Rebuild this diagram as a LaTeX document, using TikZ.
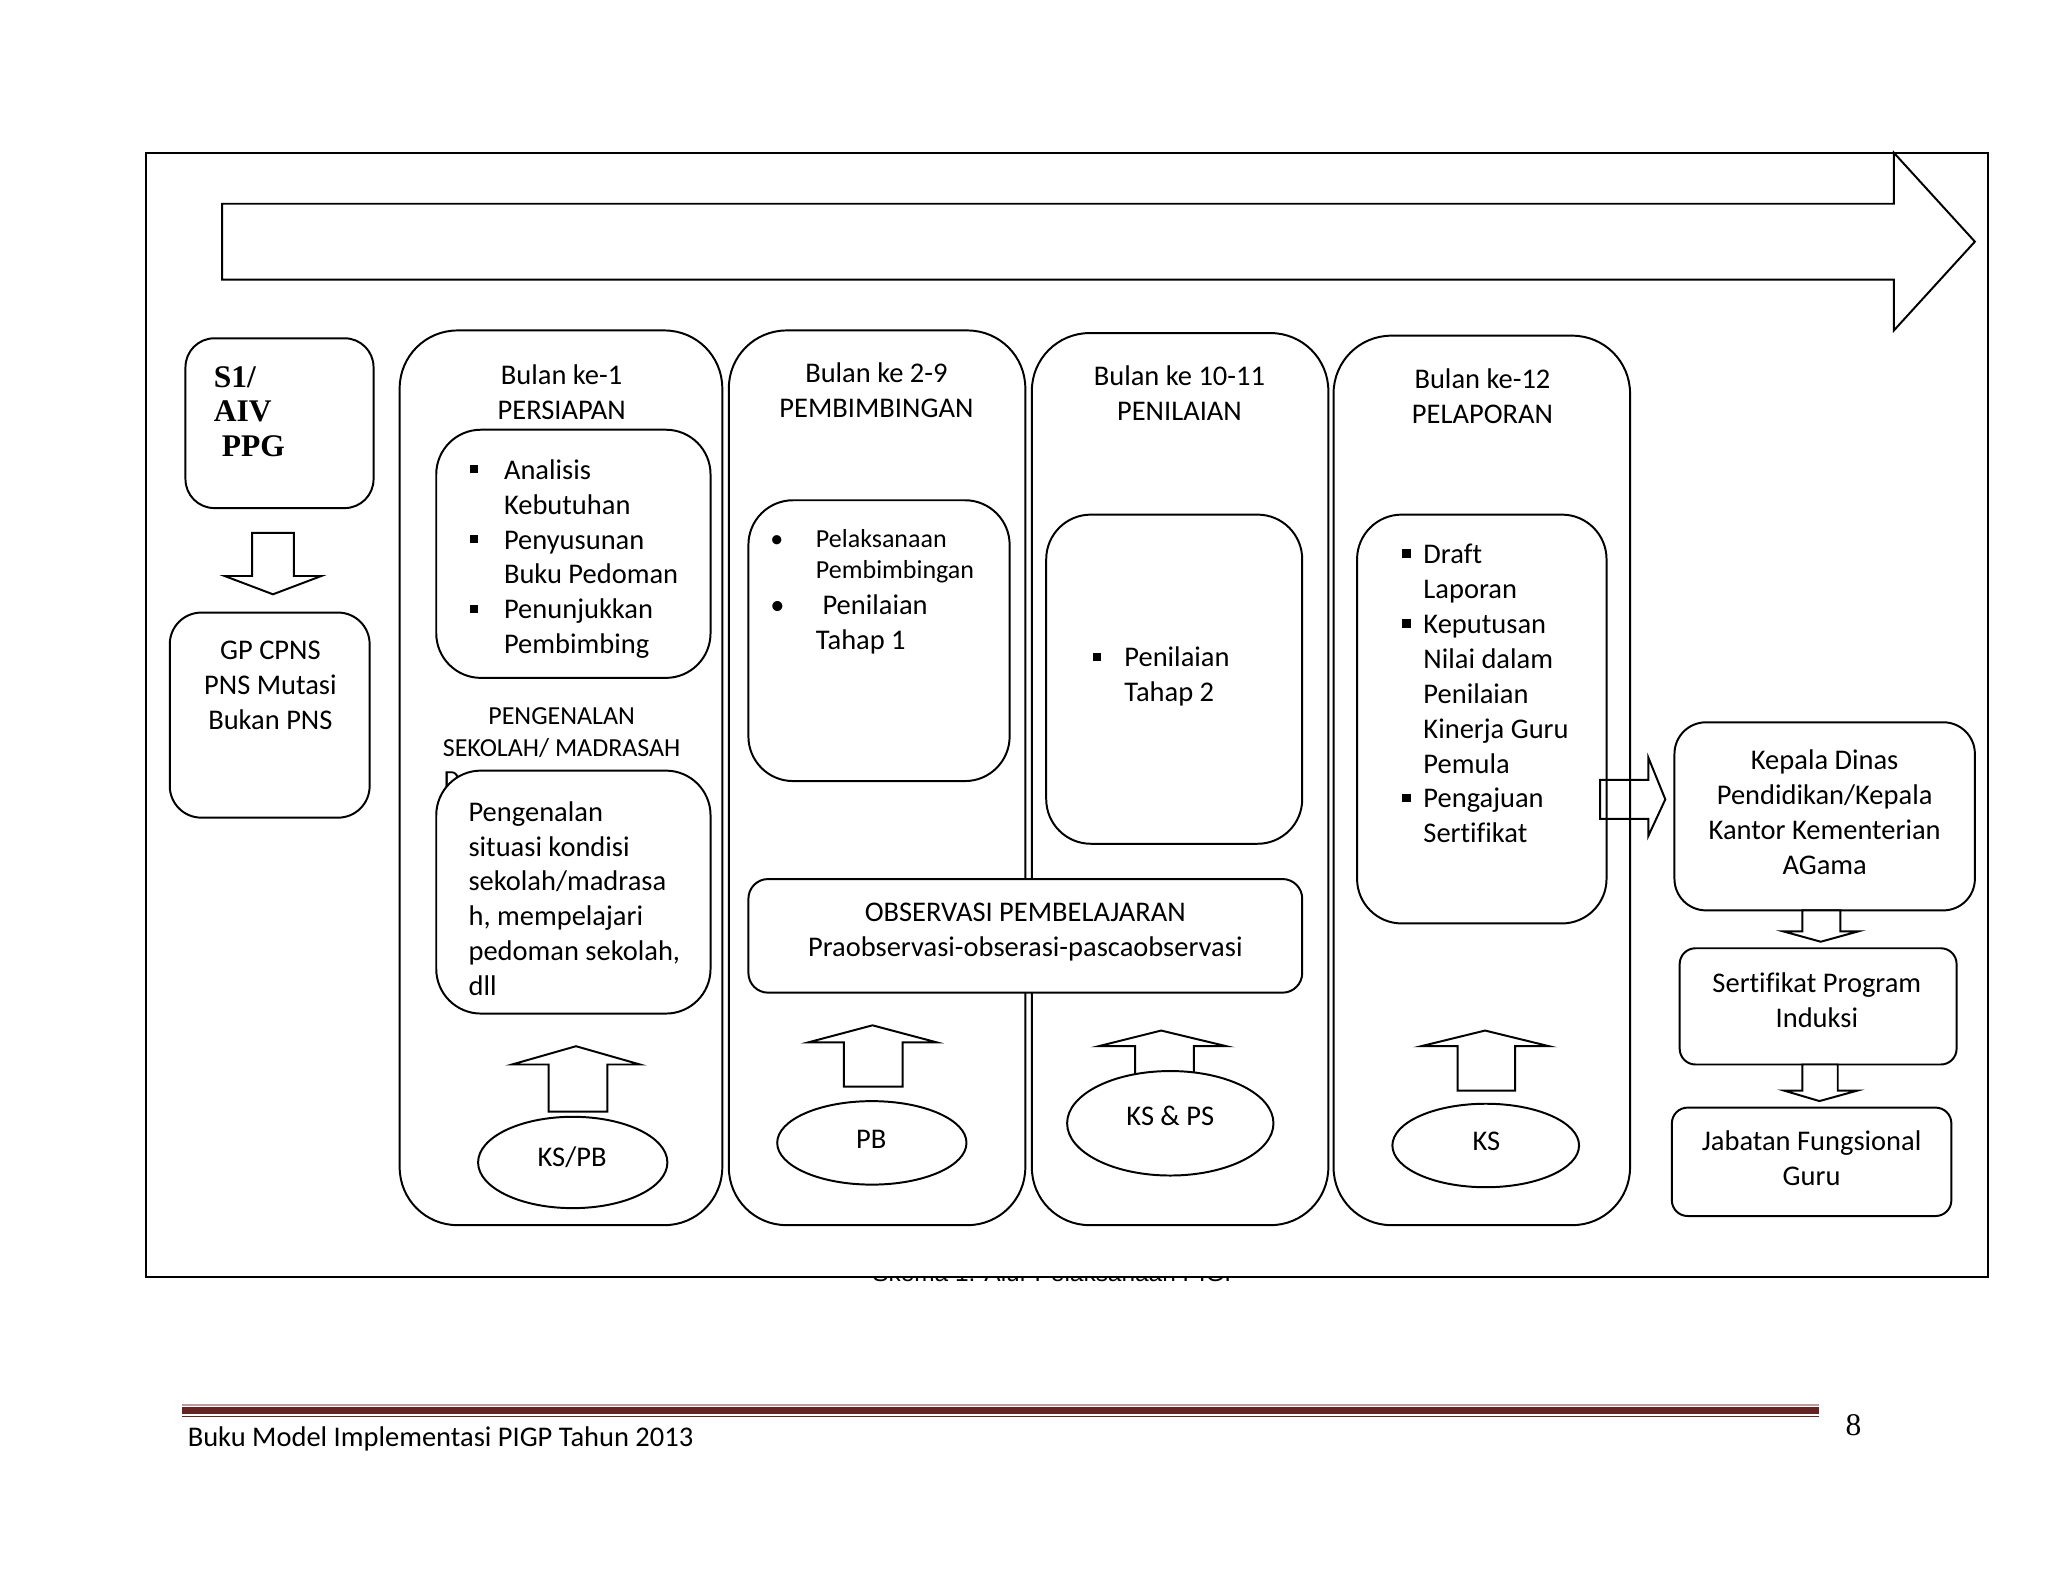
\documentclass[tikz,border=0pt]{standalone}
\usepackage{fontspec}
\setmainfont[Ligatures=NoCommon]{Carlito}
\newfontfamily\timesfont{Liberation Serif}
\newfontfamily\arialfont{Liberation Sans}
\usetikzlibrary{fit,shapes.geometric}
\definecolor{footred}{RGB}{99,36,35}
\newcommand{\sqbul}[1]{\makebox[#1][l]{\rule[0.2em]{3.2pt}{3.2pt}}}
\newcommand{\rdbul}[1]{\makebox[#1][l]{\textbullet}}
\begin{document}
\begin{tikzpicture}[x=0.4975pt, y=-0.4975pt, line width=0.75pt,
  box/.style={draw, fill=white, inner sep=0pt},
  lab/.style={inner sep=0pt, font=\fontsize{10.85}{13.3}\selectfont, align=center},
  labl/.style={inner sep=0pt, font=\fontsize{10.85}{13.3}\selectfont, align=left, anchor=west},
  sml/.style={inner sep=0pt, font=\fontsize{9.9}{12}\selectfont, align=center},
  oval/.style={draw, fill=white, ellipse, inner sep=0pt},
  blockarrow/.style={draw, fill=white}]

\fill[white] (0,0) rectangle (1568,1211);
\useasboundingbox (0,0) rectangle (1568,1211);

% caption, mostly hidden behind the frame
\node[inner sep=0pt, anchor=base, font=\arialfont\fontsize{9.3}{11}\selectfont] (cap) at (809,981) {Skema 1. Alur Pelaksanaan PIGP};

% frame
\node[box, line width=0.7pt, fit={(112,117) (1522,978)}] (frame) {};

% big timeline arrow
\draw[blockarrow] (170,156) -- (1450,156) -- (1450,117) -- (1512,185) -- (1450,253) -- (1450,214) -- (170,214) -- cycle;

% left column
\node[box, rounded corners=11pt, fit={(142,259) (286,389)}] (s1) {};
\node[inner sep=0pt, anchor=west, align=left, font={\timesfont\bfseries\fontsize{12}{13.2}\selectfont}] (s1t) at (163,315) {S1/\\AIV\\\hspace*{3pt}PPG};
\draw[blockarrow] (193,408) -- (225,408) -- (225,441) -- (246,441) -- (209,455) -- (172,441) -- (193,441) -- cycle;
\node[box, rounded corners=12pt, fit={(130,469) (283,626)}] (gp) {};
\node[lab] (gpt) at (207,525) {GP CPNS\\PNS Mutasi\\Bukan PNS};

% phase columns
\node[box, rounded corners=22pt, fit={(306,253) (553,938)}] (c1) {};
\node[box, rounded corners=22pt, fit={(558,253) (785,938)}] (c2) {};
\node[box, rounded corners=22pt, fit={(790,255) (1017,938)}] (c3) {};
\node[box, rounded corners=22pt, fit={(1021,257) (1248,938)}] (c4) {};

\node[lab] (c1t) at (430,300) {Bulan ke-1\\PERSIAPAN};
\node[lab] (c2t) at (671,299) {Bulan ke 2-9\\PEMBIMBINGAN};
\node[lab] (c3t) at (903,301) {Bulan ke 10-11\\PENILAIAN};
\node[lab] (c4t) at (1135,303) {Bulan ke-12\\PELAPORAN};

% column 1
\node[box, rounded corners=17pt, fit={(334,329) (544,519)}] (b1a) {};
\node[labl] (b1at) at (359,428) {\sqbul{13pt}Analisis\\\hspace*{13pt}Kebutuhan\\\sqbul{13pt}Penyusunan\\\hspace*{13pt}Buku Pedoman\\\sqbul{13pt}Penunjukkan\\\hspace*{13pt}Pembimbing};
\node[sml] (peng) at (430,561) {PENGENALAN\\SEKOLAH/ MADRASAH};
\node[sml, anchor=west] (pengd) at (339,597) {D};
\node[box, rounded corners=17pt, fit={(334,590) (544,776)}] (b1b) {};
\node[labl] (b1bt) at (358,688) {Pengenalan\\situasi kondisi\\sekolah/madrasa\\h, mempelajari\\pedoman sekolah,\\dll};

% column 2
\node[box, rounded corners=17pt, fit={(573,383) (773,598)}] (b2) {};
\node[inner sep=0pt, anchor=west, align=left, font=\fontsize{9.9}{12}\selectfont] (b2ta) at (589,426) {\rdbul{17.4pt}Pelaksanaan\\\hspace*{17.4pt}Pembimbingan};
\node[labl] (b2tb) at (589,478) {\rdbul{17.4pt}\hspace*{2.5pt}Penilaian\\\hspace*{17.4pt}Tahap 1};

% column 3
\node[box, rounded corners=17pt, fit={(801,394) (997,646)}] (b3) {};
\node[labl] (b3t) at (836,518) {\sqbul{12pt}Penilaian\\\hspace*{12pt}Tahap 2};

% observation box spanning columns 2-3
\node[box, rounded corners=7.5pt, fit={(573,673) (997,760)}] (obs) {};
\node[lab] (obst) at (785,713.5) {OBSERVASI PEMBELAJARAN\\Praobservasi-obserasi-pascaobservasi};

% column 4
\node[box, rounded corners=17pt, fit={(1039,394) (1230,707)}] (b4) {};
\node[labl] (b4t) at (1073,531) {\sqbul{8pt}Draft\\\hspace*{8pt}Laporan\\\sqbul{8pt}Keputusan\\\hspace*{8pt}Nilai dalam\\\hspace*{8pt}Penilaian\\\hspace*{8pt}Kinerja Guru\\\hspace*{8pt}Pemula\\\sqbul{8pt}Pengajuan\\\hspace*{8pt}Sertifikat};

% up arrows and actors
\draw[blockarrow] (420,851) -- (420,815) -- (392,815) -- (441,801) -- (490,815) -- (465,815) -- (465,851) -- cycle;
\draw[blockarrow] (646,832) -- (646,798) -- (619,798) -- (668,785) -- (717,798) -- (691,798) -- (691,832) -- cycle;
\draw[blockarrow] (869,845) -- (869,801) -- (841,801) -- (889,789) -- (939,801) -- (914,801) -- (914,845) -- cycle;
\draw[blockarrow] (1116,835) -- (1116,801) -- (1088,801) -- (1137,789) -- (1186,801) -- (1160,801) -- (1160,835) -- cycle;

\node[oval, minimum width=72.1pt, minimum height=34.8pt] (e1) at (438.5,890) {};
\node[oval, minimum width=72.1pt, minimum height=31.8pt] (e2) at (667.5,875) {};
\node[oval, minimum width=78.6pt, minimum height=39.8pt] (e3) at (896,860) {};
\node[oval, minimum width=71.1pt, minimum height=31.8pt] (e4) at (1137.5,877) {};
\node[lab] (e1t) at (438,886) {KS/PB};
\node[lab] (e2t) at (667,872) {PB};
\node[lab] (e3t) at (896,854) {KS \& PS};
\node[lab] (e4t) at (1138,874) {KS};

% right column
\draw (1225,597) -- (1262,597) -- (1262,580) -- (1275,612) -- (1262,640) -- (1262,627) -- (1225,627) -- cycle;
\node[box, rounded corners=12pt, fit={(1282,553) (1512,697)}] (kd) {};
\node[lab] (kdt) at (1397,622) {Kepala Dinas\\Pendidikan/Kepala\\Kantor Kementerian\\AGama};
\node[box, rounded corners=6pt, fit={(1286,726) (1498,815)}] (sp) {};
\node[lab] (spt) at (1391,766) {Sertifikat Program\\Induksi};
\node[box, rounded corners=6pt, fit={(1280,848) (1494,931)}] (jf) {};
\node[lab] (jft) at (1387,887) {Jabatan Fungsional\\Guru};
\draw[blockarrow] (1380,697) -- (1409,697) -- (1409,713) -- (1423,713) -- (1394,721) -- (1365,713) -- (1380,713) -- cycle;
\draw[blockarrow] (1380,815) -- (1407,815) -- (1407,835) -- (1422,835) -- (1393,843) -- (1366,835) -- (1380,835) -- cycle;

% footer
\fill[footred!45] (139,1075) rectangle (1393,1076.2);
\fill[footred] (139,1077) rectangle (1393,1082.5);
\fill[footred] (139,1084) rectangle (1393,1085.2);
\node[inner sep=0pt, anchor=west, font=\fontsize{10.85}{13.3}\selectfont] (foot) at (143,1102) {Buku Model Implementasi PIGP Tahun 2013};
\node[inner sep=0pt, font=\timesfont\fontsize{12}{14}\selectfont] (pg) at (1419,1091) {8};
\end{tikzpicture}
\end{document}
